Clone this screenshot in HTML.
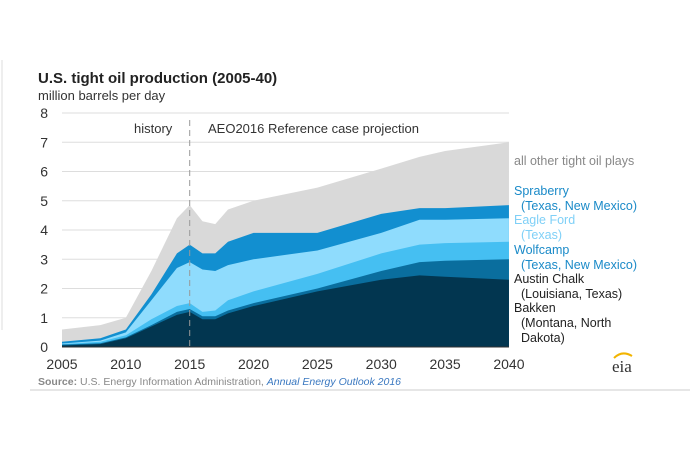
<!DOCTYPE html><html><head><style>body{margin:0;background:#fff;width:699px;height:467px;overflow:hidden;font-family:"Liberation Sans",sans-serif}</style></head><body>
<svg id="s" width="699" height="467" xmlns="http://www.w3.org/2000/svg" font-family="Liberation Sans, sans-serif">
<rect width="699" height="467" fill="#fff"/>
<line x1="2" y1="60" x2="2" y2="330" stroke="#ddd"/>
<text x="38" y="83" font-size="15" font-weight="bold" fill="#222">U.S. tight oil production (2005-40)</text>
<text x="38" y="100" font-size="13" fill="#333">million barrels per day</text>
<g id="grid" stroke="#ddd" stroke-width="1"></g>
<g id="areas"></g>
<line x1="62" y1="347" x2="509" y2="347" stroke="#333"/>
<line x1="189.7" y1="120" x2="189.7" y2="347" stroke="#999" stroke-dasharray="6,4"/>
<text x="134" y="133" font-size="13" fill="#333">history</text>
<text x="208" y="133" font-size="13" fill="#333">AEO2016 Reference case projection</text>
<g id="ylab" font-size="14" fill="#333" text-anchor="end"></g>
<g id="xlab" font-size="14" fill="#333" text-anchor="middle"></g>
<g font-size="12.5">
<text x="514" y="165" fill="#888">all other tight oil plays</text>
<text x="514" y="195" fill="#1a8ac8">Spraberry</text>
<text x="521" y="210" fill="#1a8ac8">(Texas, New Mexico)</text>
<text x="514" y="224" fill="#7fd0f7">Eagle Ford</text>
<text x="521" y="239" fill="#7fd0f7">(Texas)</text>
<text x="514" y="254" fill="#1a8ac8">Wolfcamp</text>
<text x="521" y="269" fill="#1a8ac8">(Texas, New Mexico)</text>
<text x="514" y="283" fill="#222">Austin Chalk</text>
<text x="521" y="298" fill="#222">(Louisiana, Texas)</text>
<text x="514" y="312" fill="#222">Bakken</text>
<text x="521" y="327" fill="#222">(Montana, North</text>
<text x="521" y="342" fill="#222">Dakota)</text>
</g>
<text x="612" y="372" font-size="17" font-family="Liberation Serif, serif" fill="#333">eia</text>
<path d="M614 358 q8 -8 18 -2" stroke="#f2b400" stroke-width="2" fill="none"/>
<text x="38" y="385" font-size="10.5" fill="#888"><tspan font-weight="bold">Source:</tspan> U.S. Energy Information Administration, <tspan fill="#3a78c0" font-style="italic">Annual Energy Outlook 2016</tspan></text>
<line x1="30" y1="390" x2="690" y2="390" stroke="#ccc"/>
</svg>
<script>
var X=y=>62+(y-2005)*12.77, Y=v=>347-v*29.25, ns="http://www.w3.org/2000/svg";
var d=[[2005,.05,.08,.1,.12,.18,.6],[2008,.1,.13,.18,.22,.3,.75],[2010,.3,.33,.4,.5,.6,1.0],[2012,.7,.75,.95,1.6,1.8,2.6],[2014,1.1,1.2,1.4,2.7,3.2,4.4],[2015,1.2,1.3,1.5,2.9,3.5,4.85],[2016,.95,1.05,1.2,2.65,3.2,4.3],[2017,.95,1.05,1.25,2.6,3.2,4.2],[2018,1.15,1.25,1.6,2.8,3.6,4.7],[2020,1.4,1.5,1.9,3.0,3.9,5.0],[2025,1.9,2.0,2.5,3.3,3.9,5.45],[2030,2.3,2.6,3.2,3.9,4.55,6.1],[2033,2.45,2.9,3.5,4.35,4.75,6.5],[2035,2.4,2.95,3.55,4.35,4.75,6.7],[2040,2.3,3.0,3.6,4.4,4.85,7.0]];
var cols=["#023650","#0a6e9e","#45bff2","#8fdcfd","#128fd0","#d9d9d9"];
var g=document.getElementById("grid");
for(var i=1;i<=8;i++){var l=document.createElementNS(ns,"line");l.setAttribute("x1",62);l.setAttribute("x2",509);l.setAttribute("y1",Y(i));l.setAttribute("y2",Y(i));g.appendChild(l);}
var yl=document.getElementById("ylab");
for(var i=0;i<=8;i++){var t=document.createElementNS(ns,"text");t.setAttribute("x",48);t.setAttribute("y",Y(i)+5);t.textContent=i;yl.appendChild(t);}
var xl=document.getElementById("xlab");
for(var yr=2005;yr<=2040;yr+=5){var t=document.createElementNS(ns,"text");t.setAttribute("x",X(yr));t.setAttribute("y",369);t.textContent=yr;xl.appendChild(t);}
var a=document.getElementById("areas");
for(var k=5;k>=0;k--){var p="M"+X(2005)+","+Y(0);d.forEach(r=>p+=" L"+X(r[0])+","+Y(r[k+1]));p+=" L"+X(2040)+","+Y(0)+"Z";var e=document.createElementNS(ns,"path");e.setAttribute("d",p);e.setAttribute("fill",cols[k]);a.appendChild(e);}
</script>
</body></html>
